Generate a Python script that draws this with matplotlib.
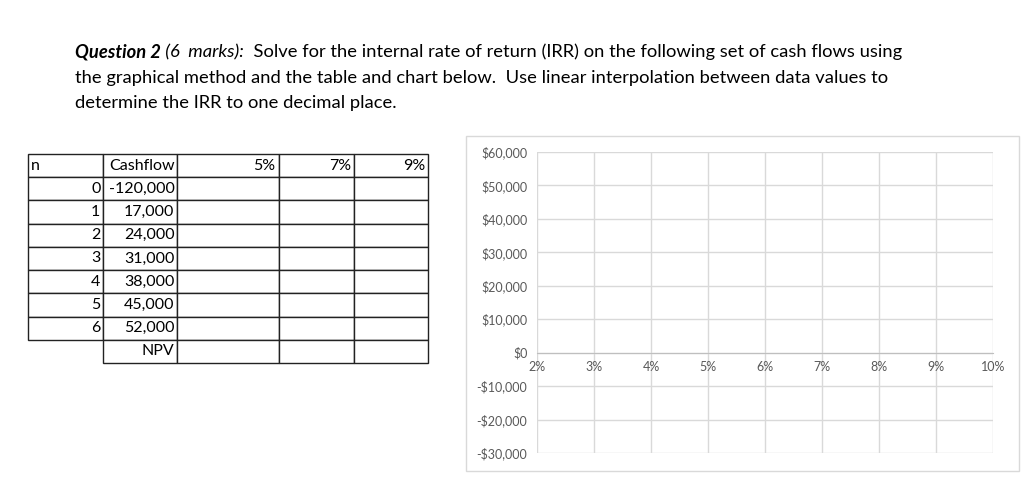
import matplotlib
matplotlib.use("Agg")
import matplotlib.pyplot as plt
from matplotlib.patches import Rectangle
from matplotlib.ticker import FuncFormatter, PercentFormatter

# table data
periods = [0, 1, 2, 3, 4, 5, 6]
cashflows = [-120000, 17000, 24000, 31000, 38000, 45000, 52000]
rate_cols = ["5%", "7%", "9%"]

# chart axes
x_ticks = [0.02, 0.03, 0.04, 0.05, 0.06, 0.07, 0.08, 0.09, 0.10]
y_ticks = [-30000, -20000, -10000, 0, 10000, 20000, 30000, 40000, 50000, 60000]

question = [
    [("Question 2", "italic", "bold"), (" (6  marks):", "italic", "normal"),
     ("  Solve for the internal rate of return (IRR) on the following set of cash flows using", "normal", "normal")],
    [("the graphical method and the table and chart below.  Use linear interpolation between data values to", "normal", "normal")],
    [("determine the IRR to one decimal place.", "normal", "normal")],
]

W, H = 1024, 488
FONT = "Lato"
fig = plt.figure(figsize=(W / 100, H / 100), dpi=100)
fig.patch.set_facecolor("white")
renderer = fig.canvas.get_renderer()

# question text, drawn segment by segment so styles can mix
line_y = [52, 78, 103]
for parts, y in zip(question, line_y):
    x = 75
    for s, style, weight in parts:
        t = fig.text(x / W, 1 - y / H, s, fontsize=13.25, fontstyle=style,
                     fontweight=weight, family=FONT, va="center", ha="left")
        x = t.get_window_extent(renderer).x1

# table
tax = fig.add_axes([28 / W, 1 - 363 / H, 400 / W, (363 - 154) / H])
tax.axis("off")
cells = [["n", "Cashflow"] + rate_cols]
for n, cf in zip(periods, cashflows):
    cells.append([str(n), f"{cf:,}", "", "", ""])
cells.append(["", "NPV", "", "", ""])
tbl = tax.table(cellText=cells, cellLoc="right", colWidths=[75, 74, 102, 75, 74],
                bbox=[0, 0, 1, 1])
tbl.auto_set_font_size(False)
tbl.set_fontsize(11.5)
for (r, c), cell in tbl.get_celld().items():
    cell.set_edgecolor("#222222")
    cell.set_linewidth(1)
    cell.PAD = 0.035
    cell.get_text().set_family(FONT)
tbl[0, 0].get_text().set_horizontalalignment("left")
tbl[0, 0]._loc = "left"
tbl[len(cells) - 1, 0].visible_edges = "open"

# chart frame
fig.add_artist(Rectangle((466 / W, 1 - 471 / H), (1019 - 466) / W, (471 - 136) / H,
                         transform=fig.transFigure, fill=False, edgecolor="#d9d9d9", lw=1))

ax = fig.add_axes([537 / W, 1 - 453 / H, (993 - 537) / W, (453 - 152) / H])
ax.set_xlim(x_ticks[0], x_ticks[-1])
ax.set_ylim(y_ticks[0], y_ticks[-1])
ax.set_xticks(x_ticks)
ax.set_yticks(y_ticks)
ax.grid(True, color="#d9d9d9", lw=1)
ax.set_axisbelow(True)
for side in ["top", "left", "right"]:
    ax.spines[side].set_visible(False)
ax.spines["bottom"].set_position(("data", 0))
ax.spines["bottom"].set_color("#bfbfbf")
ax.xaxis.set_major_formatter(PercentFormatter(1.0, decimals=0))
ax.yaxis.set_major_formatter(FuncFormatter(lambda v, p: f"-${abs(v):,.0f}" if v < 0 else f"${v:,.0f}"))
ax.tick_params(length=0, labelsize=9, labelcolor="#595959")
ax.tick_params(axis="x", pad=6)
ax.tick_params(axis="y", pad=7)
for lab in ax.get_xticklabels() + ax.get_yticklabels():
    lab.set_family(FONT)

fig.savefig("out.png", dpi=100)
